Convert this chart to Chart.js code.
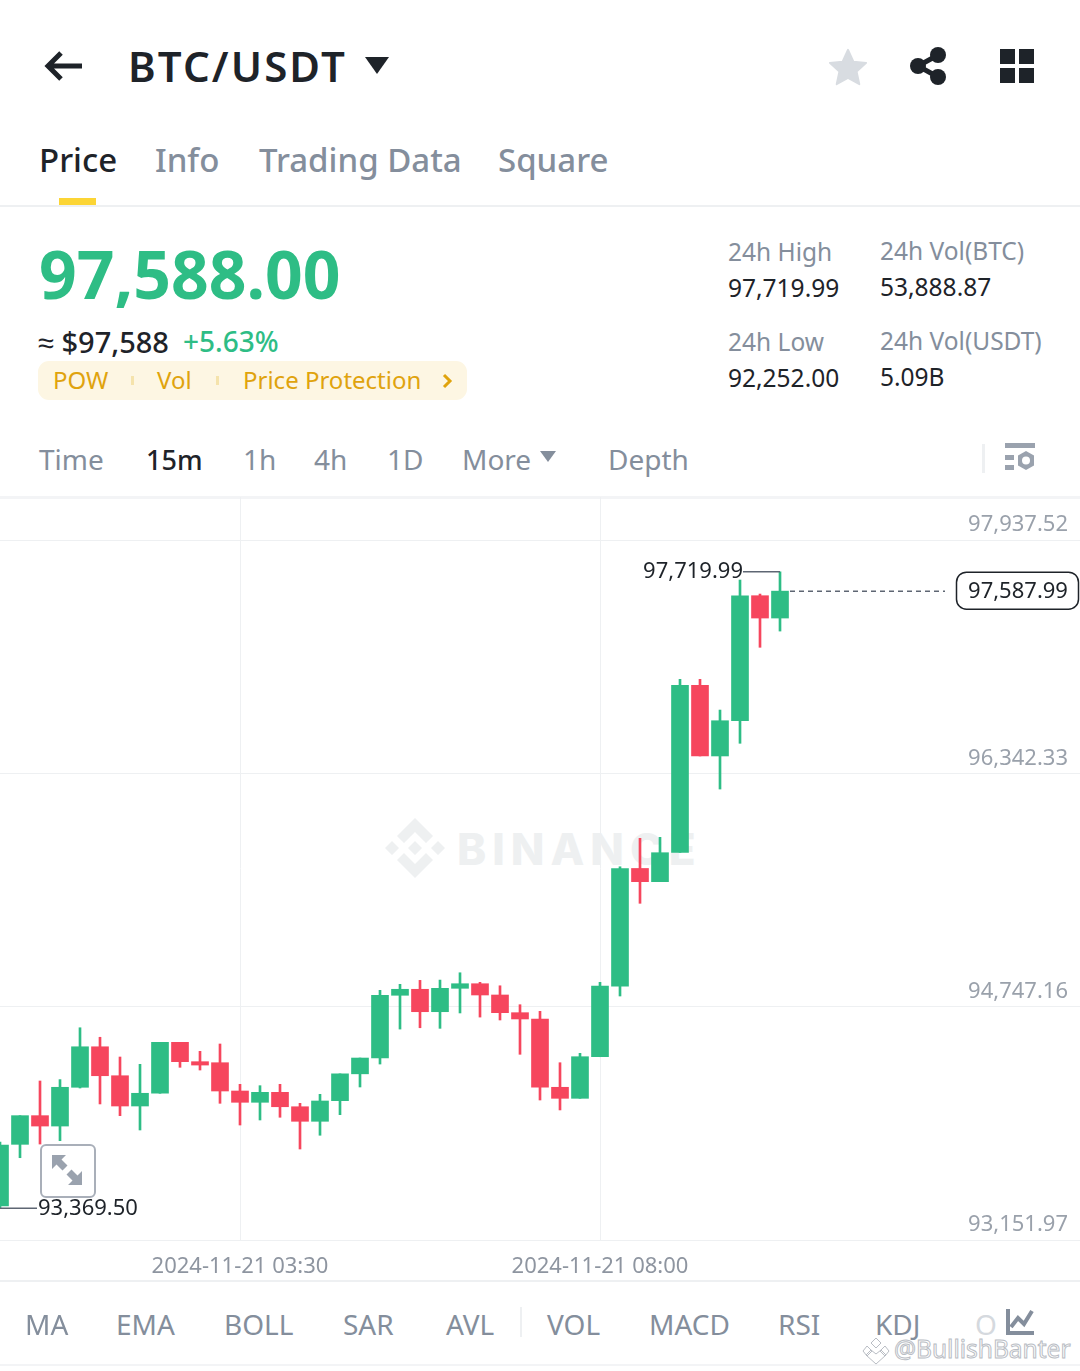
<!DOCTYPE html>
<html>
<head>
<meta charset="utf-8">
<script src="https://cdn.jsdelivr.net/npm/chart.js@4"></script>
<style>
html, body { margin: 0; padding: 0; background: #fff; }
body { width: 1080px; height: 1371px; position: relative; overflow: hidden; font-family: "Noto Sans", sans-serif; }
.t { position: absolute; white-space: nowrap; line-height: 1; transform: translateY(-50%); }
.rule { position: absolute; background: #eef0f2; }
svg { position: absolute; }
canvas { position: absolute; left: 0; top: 497px; }
.tab { font-size: 33px; color: #848e9c; top: 159px; font-weight: 500; }
.stat { font-size: 24.5px; color: #848e9c; }
.val { font-size: 24.5px; color: #1e2329; }
.tf { font-size: 28px; color: #848e9c; top: 459px; }
.ind { font-size: 28px; color: #848e9c; top: 1324px; }
.pillt { font-size: 24px; color: #e0a30d; top: 380px; }
</style>
</head>
<body>
<svg style="left:42px;top:48px" width="44" height="36" viewBox="0 0 44 36"><path d="M40 18H6M19 5L6 18l13 13" fill="none" stroke="#1e2329" stroke-width="5"/></svg>
<div class="t" style="left:128px;top:66px;font-size:42px;font-weight:600;color:#1e2329;letter-spacing:2.1px">BTC/USDT</div>
<svg style="left:364px;top:56px" width="26" height="20"><path d="M1 1h24L13 18z" fill="#1e2329"/></svg>
<svg style="left:828px;top:47px" width="40" height="40" viewBox="0 0 44 44"><path d="M22 3l6 13 14 1.500-10.500 9.500 3 14L22 34 9.500 41l3-14L2 17.500 16 16z" fill="#d8dce1" stroke="#d8dce1" stroke-width="2" stroke-linejoin="round"/></svg>
<svg style="left:908px;top:45px" width="42" height="42"><path d="M30 10L10 21l20 11" fill="none" stroke="#1e2329" stroke-width="5"/><circle cx="30" cy="10" r="8" fill="#1e2329"/><circle cx="10" cy="21" r="8" fill="#1e2329"/><circle cx="30" cy="32" r="8" fill="#1e2329"/></svg>
<svg style="left:1000px;top:49px" width="34" height="34"><rect width="15" height="15" fill="#1e2329"/><rect x="19" width="15" height="15" fill="#1e2329"/><rect y="19" width="15" height="15" fill="#1e2329"/><rect x="19" y="19" width="15" height="15" fill="#1e2329"/></svg>

<div class="t tab" style="left:39px;color:#1e2329">Price</div>
<div class="t tab" style="left:155px">Info</div>
<div class="t tab" style="left:259px">Trading Data</div>
<div class="t tab" style="left:498px">Square</div>
<div style="position:absolute;left:59px;top:198px;width:37px;height:7px;background:#fcd535"></div>
<div class="rule" style="left:0;top:205px;width:1080px;height:2px"></div>

<div class="t" style="left:39px;top:273px;font-size:66px;font-weight:700;color:#2ebd85">97,588.00</div>
<div class="t" style="left:38px;top:341px;font-size:29px;font-weight:500;color:#1e2329">≈ $97,588</div>
<div class="t" style="left:183px;top:341px;font-size:28px;font-weight:500;color:#2ebd85">+5.63%</div>
<div style="position:absolute;left:38px;top:361px;width:429px;height:39px;border-radius:11px;background:#fdf6e3"></div>
<div class="t pillt" style="left:53px">POW</div>
<div style="position:absolute;left:131px;top:376px;width:3px;height:9px;background:#f5e3ac"></div>
<div class="t pillt" style="left:157px">Vol</div>
<div style="position:absolute;left:216px;top:376px;width:3px;height:9px;background:#f5e3ac"></div>
<div class="t pillt" style="left:243px">Price Protection</div>
<svg style="left:441px;top:373px" width="14" height="16"><path d="M3 2l6 6-6 6" fill="none" stroke="#e0a30d" stroke-width="3"/></svg>

<div class="t stat" style="left:728px;top:252px">24h High</div>
<div class="t val" style="left:728px;top:288px">97,719.99</div>
<div class="t stat" style="left:728px;top:342px">24h Low</div>
<div class="t val" style="left:728px;top:378px">92,252.00</div>
<div class="t stat" style="left:880px;top:251px">24h Vol(BTC)</div>
<div class="t val" style="left:880px;top:287px">53,888.87</div>
<div class="t stat" style="left:880px;top:341px">24h Vol(USDT)</div>
<div class="t val" style="left:880px;top:377px">5.09B</div>

<div class="t tf" style="left:39px">Time</div>
<div class="t tf" style="left:146px;color:#1e2329;font-weight:500;font-size:27px">15m</div>
<div class="t tf" style="left:243px">1h</div>
<div class="t tf" style="left:314px">4h</div>
<div class="t tf" style="left:387px">1D</div>
<div class="t tf" style="left:462px">More</div>
<svg style="left:539px;top:450px" width="18" height="14"><path d="M1 1h16l-8 11z" fill="#848e9c"/></svg>
<div class="t tf" style="left:608px">Depth</div>
<div class="rule" style="left:982px;top:444px;width:3px;height:29px"></div>
<svg style="left:1005px;top:442px" width="32" height="32"><rect width="30" height="5" y="1" fill="#9aa2ae"/><rect y="13" width="9" height="5" fill="#9aa2ae"/><rect y="23" width="9" height="5" fill="#9aa2ae"/><path d="M21 9l8 4.500v10L21 28l-8-4.500v-10z" fill="#9aa2ae"/><circle cx="21" cy="18.500" r="4" fill="#fff"/></svg>

<div class="rule" style="left:0;top:496px;width:1080px;height:3px;background:#f3f4f6"></div>

<!-- watermark sits behind the transparent canvas -->
<svg style="left:384px;top:817px" width="62" height="62" viewBox="0 0 62 62"><path d="M31 1L49 19 42 26 31 15 20 26 13 19zM8 24L15 31 8 38 1 31zM54 24L61 31 54 38 47 31zM31 24L38 31 31 38 24 31zM31 61L49 43 42 36 31 47 20 36 13 43z" fill="#eef0f1"/></svg>
<div class="t" style="left:457px;top:849px;font-size:44px;font-family:Inter;font-weight:800;color:#eef0f1;letter-spacing:6px">BINANCE</div>

<canvas id="klineChart" width="1080" height="783"></canvas>

<div style="position:absolute;left:40px;top:1144px;width:52px;height:50px;border:2px solid #a9afb9;border-radius:6px;background:#fff"></div>
<svg style="left:50px;top:1153px" width="34" height="34" viewBox="0 0 34 34"><path d="M2 2h14l-4.500 4.500 6 6-5 5-6-6L2 16zM32 32H18l4.500-4.500-6-6 5-5 6 6L32 18z" fill="#9aa2ae"/></svg>

<div class="rule" style="left:0;top:1280px;width:1080px;height:2px"></div>
<div class="t ind" style="left:25px">MA</div>
<div class="t ind" style="left:116px">EMA</div>
<div class="t ind" style="left:224px">BOLL</div>
<div class="t ind" style="left:343px">SAR</div>
<div class="t ind" style="left:446px">AVL</div>
<div class="rule" style="left:520px;top:1307px;width:2px;height:30px"></div>
<div class="t ind" style="left:547px">VOL</div>
<div class="t ind" style="left:649px">MACD</div>
<div class="t ind" style="left:778px">RSI</div>
<div class="t ind" style="left:875px">KDJ</div>
<div class="t ind" style="left:975px;color:#d5d9de">O</div>
<svg style="left:1006px;top:1309px" width="28" height="28"><path d="M2 0v24h26" fill="none" stroke="#848e9c" stroke-width="4"/><path d="M5 18l7-9 6 6 8-13" fill="none" stroke="#848e9c" stroke-width="4"/></svg>
<div class="rule" style="left:0;top:1364px;width:1080px;height:2px;background:#f3f4f6"></div>
<svg style="left:862px;top:1337px" width="28" height="28" viewBox="0 0 28 28"><path d="M14 1l5 5-5 5-5-5zM5 9l5 5-5 5-4-5zM23 9l4 5-4 5-5-5zM14 17l5-4 5 5-10 9L4 18l5-5z" fill="#fff" stroke="#b9bdc4" stroke-width="1"/></svg>
<div class="t" style="left:894px;top:1349px;font-size:24.5px;color:#fff;-webkit-text-stroke:1px #b9bdc4">@BullishBanter</div>

<script>
// 15m candles, oldest first
const times = ["00:30","00:45","01:00","01:15","01:30","01:45","02:00","02:15","02:30","02:45",
    "03:00","03:15","03:30","03:45","04:00","04:15","04:30","04:45","05:00","05:15",
    "05:30","05:45","06:00","06:15","06:30","06:45","07:00","07:15","07:30","07:45",
    "08:00","08:15","08:30","08:45","09:00","09:15","09:30","09:45","10:00","10:15",
    "10:30","10:45","11:00","11:15","11:30","11:45","12:00","12:15","12:30","12:45",
    "13:00","13:15","13:30","13:45","14:00"];
const opens = [93385,93806,94002,93931,94196,94473,94275,94068,94155,94503.5,
    94371,94364,94170.6,94093.4,94161.7,94063,93963.5,94104.3,94288,94396,
    94825,94866,94712.7,94872.7,94904,94827,94706,94663,94196,94120.6,
    94405,94888,95692,95601.5,95802,96944,96461,96702,97556.7,97404];
const closes = [93801,94002,93931,94196,94473,94275,94068,94155,94503.5,94371,
    94348,94170.6,94093.4,94161.7,94063,93963.5,94102.3,94288,94396,94825,
    94866,94712.7,94872.7,94904,94827,94706,94663,94196,94120.6,94405,
    94888,95692,95601.5,95799.7,96944,96461,96702,97556.7,97404,97587.99];
const highs = [93822,94002,94239,94248.5,94603,94538,94403,94353,94503.5,94503.5,
    94442,94492,94216.4,94207,94216.4,94086.5,94148,94288,94396,94859,
    94900,94927,94929,94979,94913.7,94890,94760.6,94715.4,94364,94428,
    94913.7,95703.6,95898,95905,96985,96985,96775,97664,97568,97719.99];
const lows = [93369.5,93714.6,93808,93831,94191,94082,94002,93904,94155,94332.6,
    94314,94086.5,93938,93972.4,93991,93774,93868,94008.6,94198,94355,
    94594,94603,94599,94704,94676,94656,94421.5,94109,94041,94120.6,
    94405,94820,95453.8,95601.5,95802,96461,96235,96547.7,97204,97315];
const priceTicks = [97937.52,96342.33,94747.16,93151.97];
const dateLabels = { "03:30": "2024-11-21 03:30", "08:00": "2024-11-21 08:00" };
const yMin = 93151.97;
const yMax = 98231.5;
const dayHigh = 97719.99;
const dayLow = 93369.5;
const lastPrice = 97587.99;

const UP = "#2ebd85";
const DOWN = "#f6465d";
const GRID = "#eef0f2";
const fmt = (v) => v.toLocaleString("en-US", { minimumFractionDigits: 2, maximumFractionDigits: 2 });
const candleColors = opens.map((o, i) => (closes[i] >= o ? UP : DOWN));

// labels stick out of the plot otherwise and chart.js pads for them
function noPadding(s) {
    s.paddingLeft = s.paddingRight = s.paddingTop = s.paddingBottom = 0;
}

const priceMarks = {
    id: "priceMarks",
    afterDraw(chart) {
        const { ctx, scales } = chart;
        const hiY = scales.y.getPixelForValue(dayHigh);
        const loY = scales.y.getPixelForValue(dayLow);
        const lastY = scales.y.getPixelForValue(lastPrice);
        const lastX = scales.x.getPixelForValue(opens.length - 1);
        ctx.save();
        ctx.font = "22px 'Noto Sans'";
        ctx.textBaseline = "middle";
        ctx.fillStyle = "#1e2329";
        ctx.strokeStyle = "#5e6673";
        ctx.lineWidth = 1.5;

        ctx.beginPath();
        ctx.moveTo(lastX - 37, hiY);
        ctx.lineTo(lastX, hiY);
        ctx.moveTo(0, loY);
        ctx.lineTo(37, loY);
        ctx.stroke();
        ctx.textAlign = "right";
        ctx.fillText(fmt(dayHigh), lastX - 37, hiY);
        ctx.textAlign = "left";
        ctx.fillText(fmt(dayLow), 38, loY + 1);

        ctx.setLineDash([5, 4]);
        ctx.beginPath();
        ctx.moveTo(lastX + 10, lastY);
        ctx.lineTo(945, lastY);
        ctx.stroke();
        ctx.setLineDash([]);

        ctx.beginPath();
        ctx.roundRect(956.5, lastY - 19, 122, 37, 10);
        ctx.fillStyle = "#fff";
        ctx.fill();
        ctx.strokeStyle = "#1e2329";
        ctx.stroke();
        ctx.fillStyle = "#1e2329";
        ctx.textAlign = "center";
        ctx.fillText(fmt(lastPrice), 1018, lastY + 1);
        ctx.restore();
    },
};

new Chart(document.getElementById("klineChart"), {
    type: "bar",
    data: {
        labels: times,
        datasets: [
            {
                label: "Wick",
                data: lows.map((l, i) => [l, highs[i]]),
                backgroundColor: candleColors,
                barThickness: 2,
                grouped: false,
                order: 2,
            },
            {
                label: "Body",
                data: opens.map((o, i) => [o, closes[i]]),
                backgroundColor: candleColors,
                barThickness: 17,
                grouped: false,
                order: 1,
            },
        ],
    },
    options: {
        responsive: false,
        animation: false,
        devicePixelRatio: 1,
        layout: { padding: 0 },
        plugins: {
            legend: { display: false },
            tooltip: { enabled: false },
        },
        scales: {
            x: {
                offset: false,
                border: { display: false },
                grid: {
                    offset: false,
                    drawTicks: false,
                    color: (c) => (dateLabels[times[c.index]] ? GRID : "transparent"),
                },
                ticks: {
                    autoSkip: false,
                    maxRotation: 0,
                    padding: 14,
                    color: "#8e95a0",
                    font: { family: "Noto Sans", size: 22 },
                    callback: (v, i) => dateLabels[times[i]] || "",
                },
                afterFit: (s) => { s.height = 40; noPadding(s); },
            },
            y: {
                position: "right",
                min: yMin,
                max: yMax,
                border: { display: false },
                grid: { drawTicks: false, color: GRID },
                afterBuildTicks: (s) => { s.ticks = priceTicks.map((v) => ({ value: v })); },
                afterFit: (s) => { s.width = 0; noPadding(s); },
                ticks: {
                    mirror: true,
                    padding: -12,
                    color: "#9aa1ab",
                    font: { family: "Noto Sans", size: 22, lineHeight: "30px" },
                    // blank second line lifts the label above its grid line
                    callback: (v) => [fmt(v), ""],
                },
            },
        },
    },
    plugins: [priceMarks],
});
</script>
</body>
</html>
